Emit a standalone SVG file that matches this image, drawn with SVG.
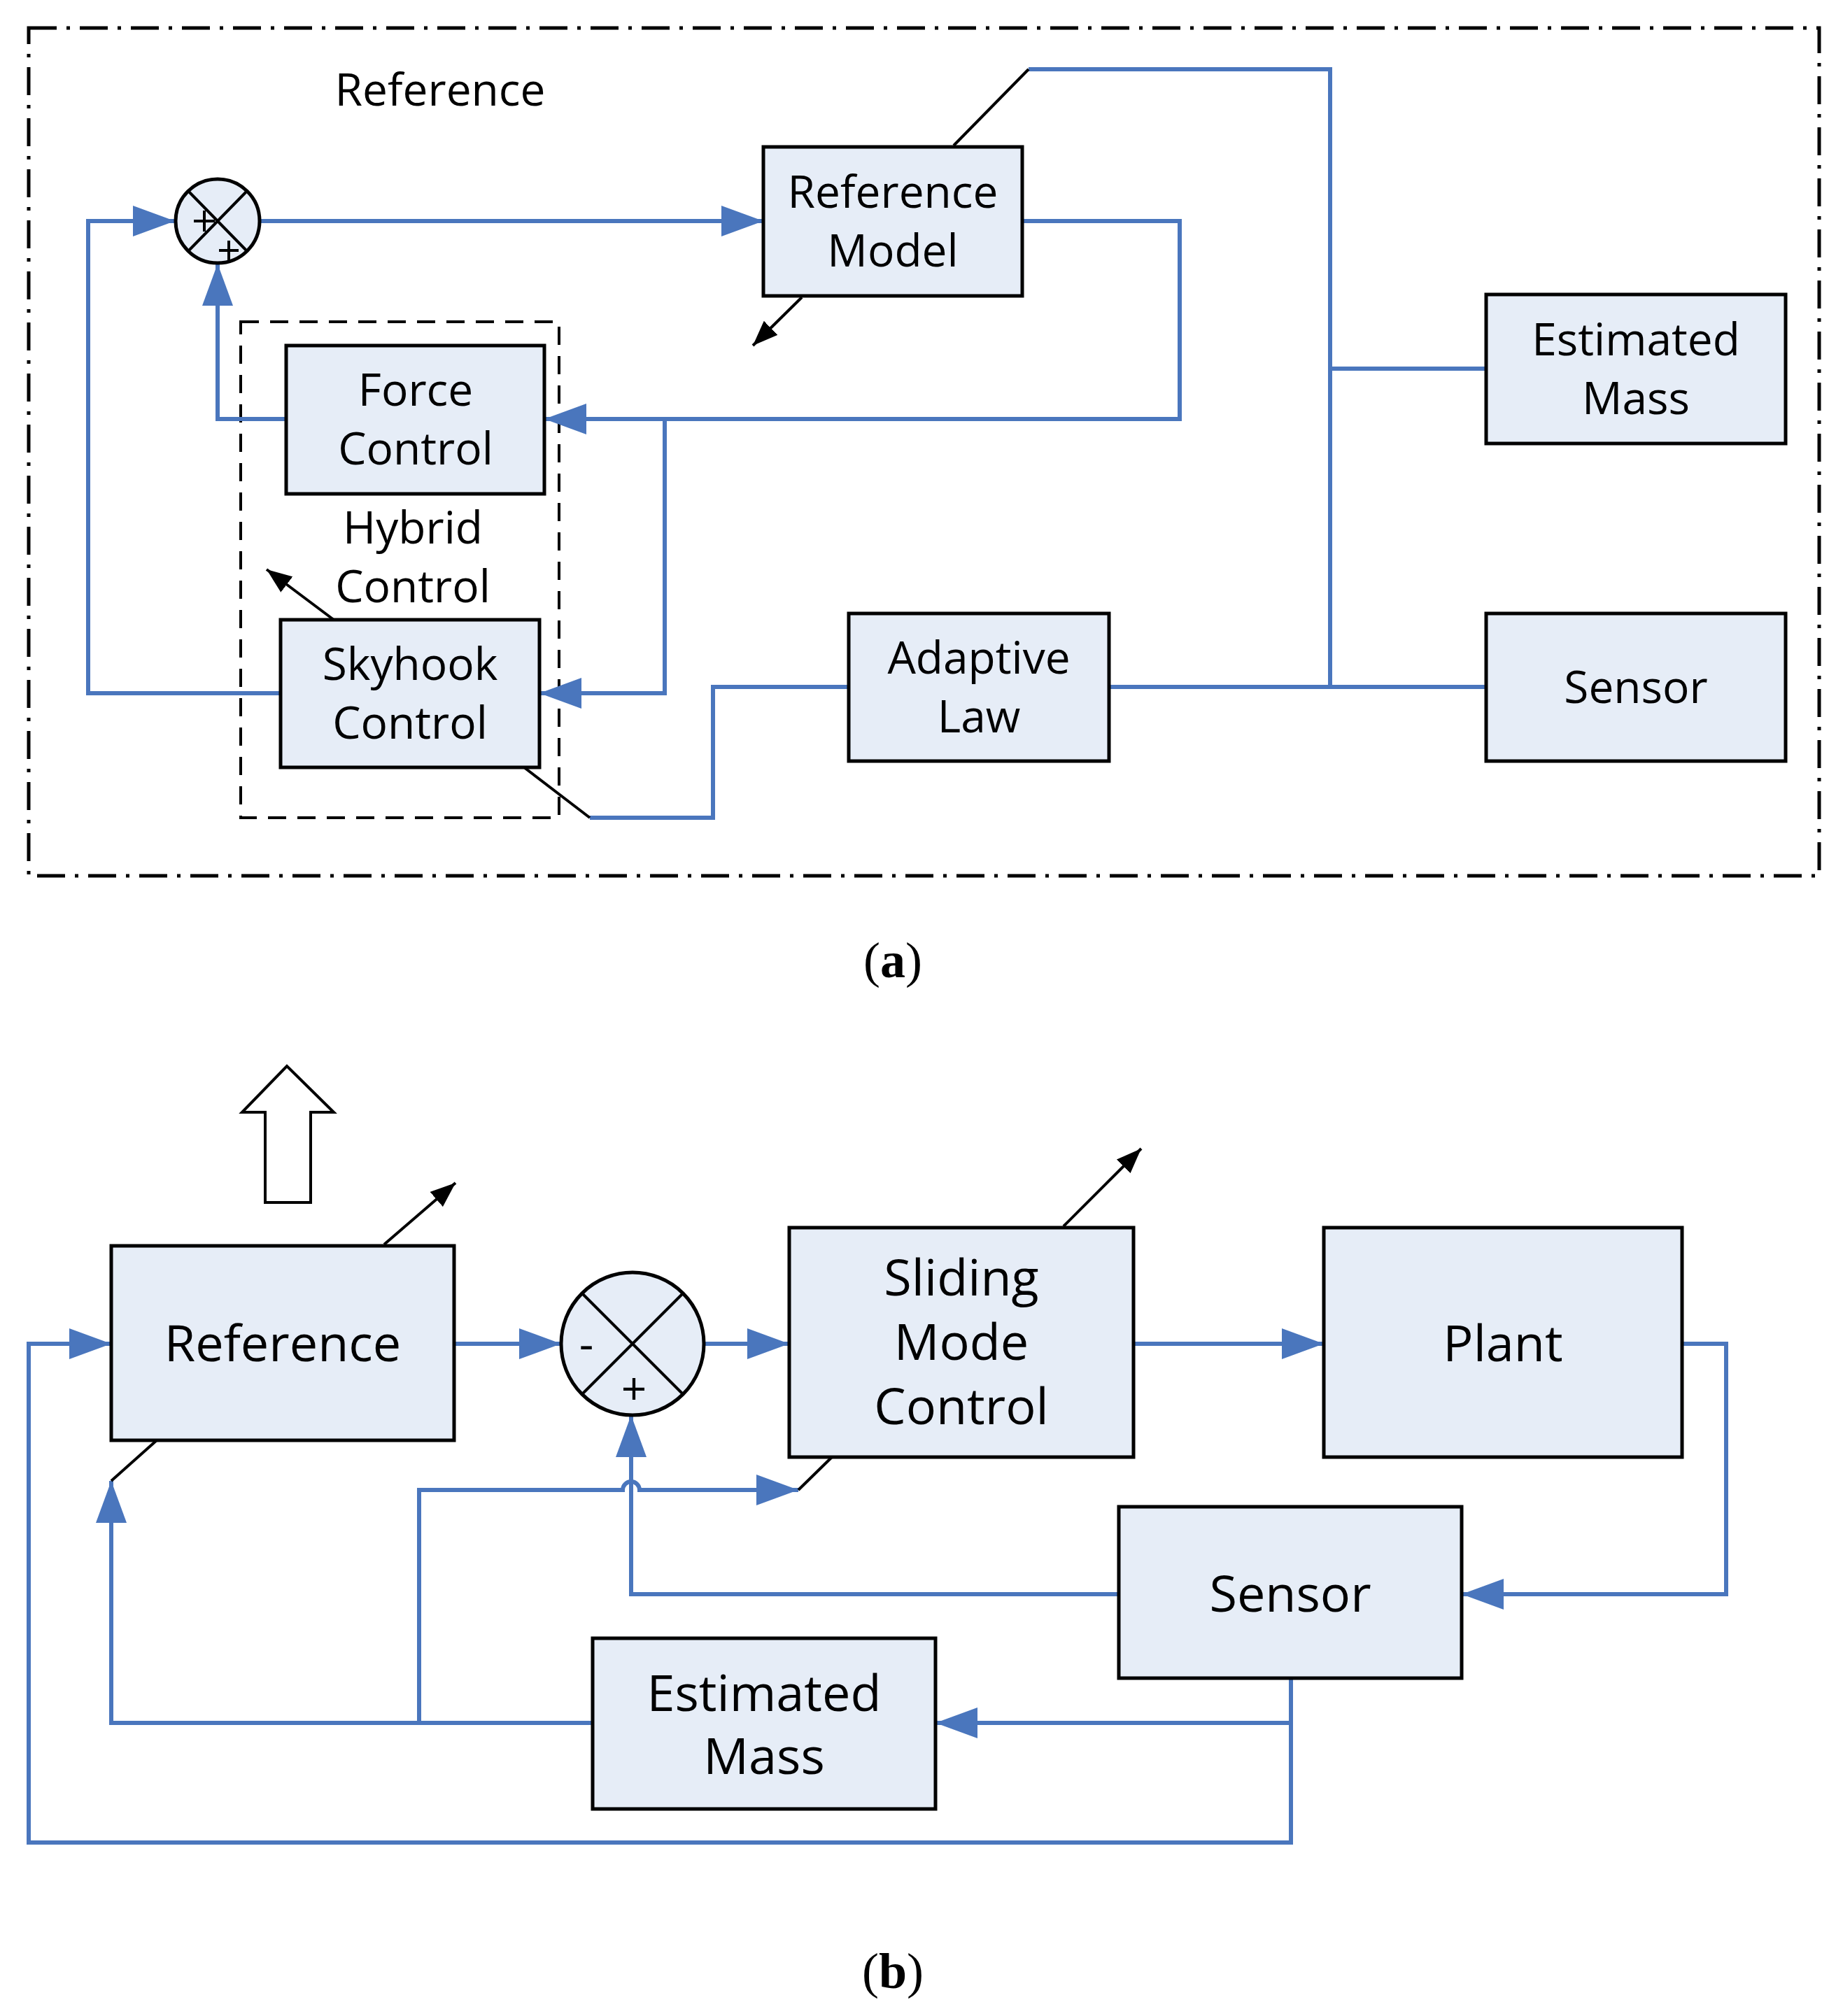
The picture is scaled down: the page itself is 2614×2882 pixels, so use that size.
<svg xmlns="http://www.w3.org/2000/svg" width="2614" height="2882" viewBox="0 0 2614 2882">
<defs>
<style>
.box{fill:#e6edf7;stroke:#000;stroke-width:5}
.t{font-family:"Open Sans","Noto Sans",sans-serif;font-size:64px;text-anchor:middle;fill:#000}
.tb{font-family:"Open Sans","Noto Sans",sans-serif;font-size:72px;text-anchor:middle;fill:#000}
.c{fill:none;stroke:#4a76bd;stroke-width:6}
.k{fill:none;stroke:#000;stroke-width:4}
.lab{font-family:"Liberation Serif",serif;font-size:72px;text-anchor:middle}
</style>
<marker id="a" markerUnits="userSpaceOnUse" markerWidth="60" markerHeight="44" refX="60" refY="22" orient="auto"><path d="M0,0L60,22L0,44Z" fill="#4a76bd"/></marker>
<marker id="k" markerUnits="userSpaceOnUse" markerWidth="36" markerHeight="28" refX="36" refY="14" orient="auto"><path d="M0,0L36,14L0,28Z" fill="#000"/></marker>
</defs>
<rect x="41" y="40" width="2559" height="1212" fill="none" stroke="#000" stroke-width="5" stroke-dasharray="40,14,5,14"/>
<text class="t" x="629" y="151">Reference</text>
<rect x="344" y="460" width="455" height="709" fill="none" stroke="#000" stroke-width="4" stroke-dasharray="26,16"/>
<text class="t" x="590" y="777">Hybrid</text>
<text class="t" x="590" y="861">Control</text>
<g id="connectors">
<path class="c" d="M372,316H1091" marker-end="url(#a)"/>
<path class="c" d="M1461,316H1686V599H778" marker-end="url(#a)"/>
<path class="c" d="M950,599V991H771" marker-end="url(#a)"/>
<path class="c" d="M409,599H311V377" marker-end="url(#a)"/>
<path class="c" d="M401,991H126V316H250" marker-end="url(#a)"/>
<path class="c" d="M2124,982H1585"/>
<path class="c" d="M1901,982V99H1470"/>
<path class="k" d="M1470,99L1363,208"/>
<path class="c" d="M2124,527H1901"/>
<path class="c" d="M1213,982H1019V1169H843"/>
<path class="k" d="M843,1169L749,1097"/>
<path class="k" d="M1146,425L1076,494" marker-end="url(#k)"/>
<path class="k" d="M477,886L381,814" marker-end="url(#k)"/>
<path class="c" d="M649,1921H802" marker-end="url(#a)"/>
<path class="c" d="M1006,1921H1128" marker-end="url(#a)"/>
<path class="c" d="M1620,1921H1892" marker-end="url(#a)"/>
<path class="c" d="M2404,1921H2467V2279H2089" marker-end="url(#a)"/>
<path class="c" d="M1599,2279H902V2023" marker-end="url(#a)"/>
<path class="c" d="M1845,2399V2463H1337" marker-end="url(#a)"/>
<path class="c" d="M1845,2463V2634H41V1921H159" marker-end="url(#a)"/>
<path class="c" d="M847,2463H159V2117" marker-end="url(#a)"/>
<path class="k" d="M159,2117L224,2059"/>
<path class="c" d="M599,2463V2130H890A12,12 0 0 1 914,2130H1141" marker-end="url(#a)"/>
<path class="k" d="M1141,2130L1189,2083"/>
<path class="k" d="M549,1779L651,1691" marker-end="url(#k)"/>
<path class="k" d="M1520,1753L1631,1642" marker-end="url(#k)"/>
</g>
<g id="sumA">
<circle cx="311" cy="316" r="60" fill="#e6edf7" stroke="#000" stroke-width="5"/>
<path class="k" d="M269,273L353,359M353,273L269,359"/>
<path class="k" d="M277,316h30M292,301v30M313,358h28M327,344v28"/>
</g>
<g id="refModel"><rect class="box" x="1091" y="210" width="370" height="213"/><text class="t" x="1276" y="297">Reference</text><text class="t" x="1276" y="381">Model</text></g>
<g id="forceControl"><rect class="box" x="409" y="494" width="369" height="212"/><text class="t" x="594" y="580">Force</text><text class="t" x="594" y="664">Control</text></g>
<g id="skyhook"><rect class="box" x="401" y="886" width="370" height="211"/><text class="t" x="586" y="972">Skyhook</text><text class="t" x="586" y="1056">Control</text></g>
<g id="estMassA"><rect class="box" x="2124" y="421" width="428" height="213"/><text class="t" x="2338" y="508">Estimated</text><text class="t" x="2338" y="592">Mass</text></g>
<g id="adaptive"><rect class="box" x="1213" y="877" width="372" height="211"/><text class="t" x="1399" y="963">Adaptive</text><text class="t" x="1399" y="1047">Law</text></g>
<g id="sensorA"><rect class="box" x="2124" y="877" width="428" height="211"/><text class="t" x="2338" y="1005">Sensor</text></g>
<text class="lab" x="1276" y="1397">(<tspan font-weight="bold">a</tspan>)</text>
<g id="bigArrow"><path d="M379,1719V1590H346L410,1524L477,1590H444V1719Z" fill="#fff" stroke="#000" stroke-width="4"/></g>
<g id="refB"><rect class="box" x="159" y="1781" width="490" height="278"/><text class="tb" x="404" y="1946">Reference</text></g>
<g id="sumB">
<circle cx="904" cy="1921" r="102" fill="#e6edf7" stroke="#000" stroke-width="5"/>
<path class="k" d="M832,1849L976,1993M976,1849L832,1993"/>
<text class="t" x="838" y="1944" font-size="50">-</text>
<text class="t" x="906" y="2008" font-size="54">+</text>
</g>
<g id="smc"><rect class="box" x="1128" y="1755" width="492" height="328"/><text class="tb" x="1374" y="1852" font-size="64">Sliding</text><text class="tb" x="1374" y="1944" font-size="64">Mode</text><text class="tb" x="1374" y="2036" font-size="64">Control</text></g>
<g id="plant"><rect class="box" x="1892" y="1755" width="512" height="328"/><text class="tb" x="2148" y="1946">Plant</text></g>
<g id="sensorB"><rect class="box" x="1599" y="2154" width="490" height="245"/><text class="tb" x="1844" y="2304">Sensor</text></g>
<g id="estMassB"><rect class="box" x="847" y="2342" width="490" height="244"/><text class="tb" x="1092" y="2446">Estimated</text><text class="tb" x="1092" y="2536">Mass</text></g>
<text class="lab" x="1276" y="2842">(<tspan font-weight="bold">b</tspan>)</text>
</svg>
